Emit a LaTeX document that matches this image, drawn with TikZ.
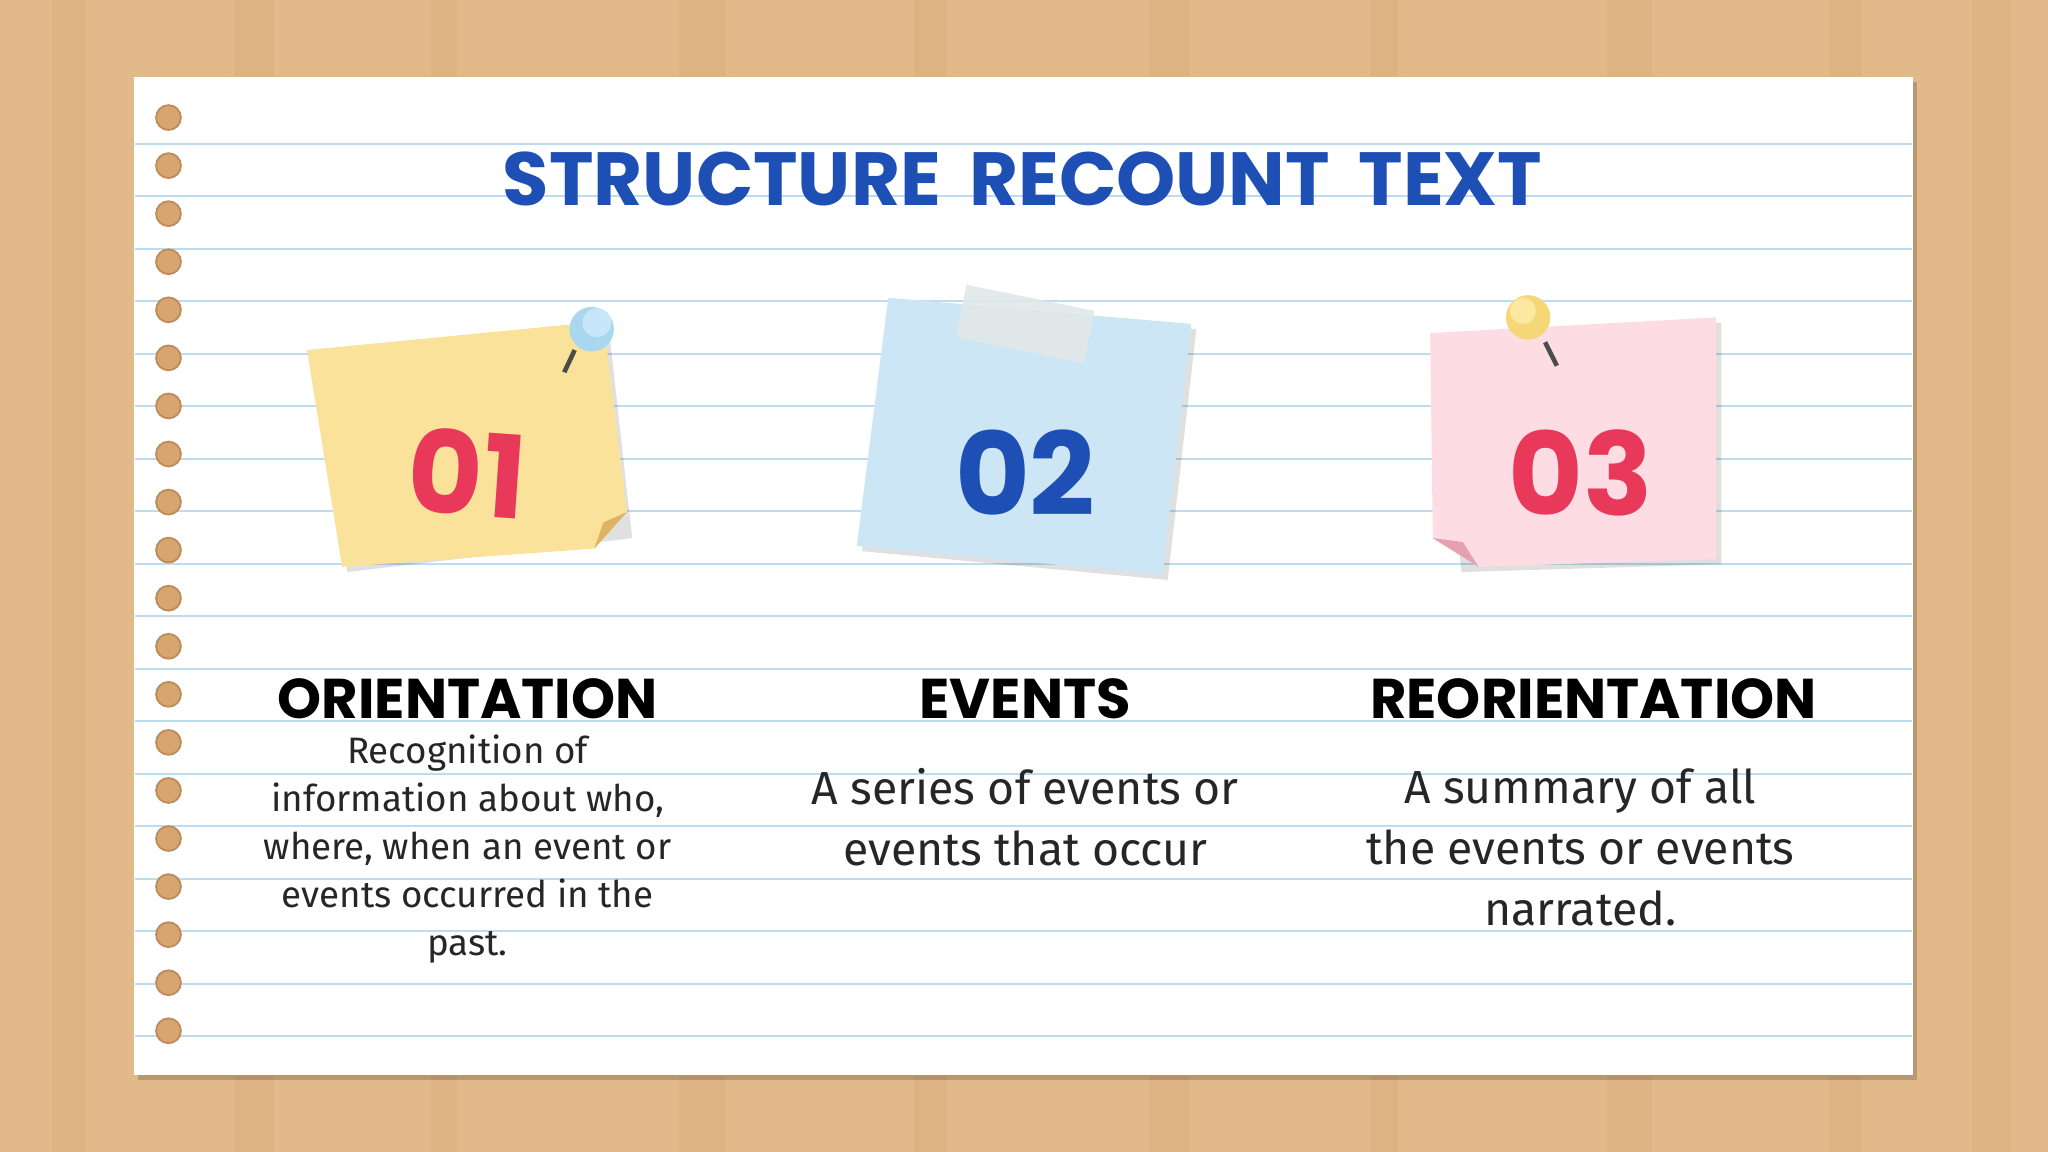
\documentclass[tikz,border=0pt]{standalone}
\usepackage{fontspec}
\setmainfont{Fira Sans}
\newfontfamily\headf{Poppins}
\begin{document}
\begin{tikzpicture}[x=0.01cm,y=-0.01cm,
  body/.style={align=center,text=black!85,font=\fontsize{8.0}{10.45}\selectfont},
  bodyb/.style={align=center,text=black!85,font=\fontsize{10.1}{13.3}\selectfont},
  head/.style={font=\headf\bfseries\fontsize{12.2}{14}\selectfont},
  num/.style={font=\headf\bfseries\fontsize{25}{25}\selectfont}]
\useasboundingbox (0,0) rectangle (1568,882);
\fill[color={rgb,255:red,226;green,185;blue,138}] (0,0) rectangle (1568,882);
\foreach \x/\w in {40/25,180/30,330/20,520/35,700/25,880/30,1050/20,1230/35,1400/25,1510/30}
  \fill[color={rgb,255:red,214;green,170;blue,122},opacity=0.35] (\x,0) rectangle (\x+\w,882);
% paper
\fill[black,opacity=0.18] (106,63) rectangle (1468,827);
\node[draw=none,fill=white,minimum width=13.61cm,minimum height=7.64cm,inner sep=0] (paper) at (783.5,441) {};
\foreach \i in {0,...,17}
  \draw[color={rgb,255:red,190;green,220;blue,240},line width=0.5pt] (103,110+40.2*\i) -- (1464,110+40.2*\i);
\foreach \i in {0,...,19}
  \fill[color={rgb,255:red,215;green,165;blue,112},draw={rgb,255:red,190;green,140;blue,90},line width=0.4pt] (129,90+36.8*\i) circle (9.5);
% title
\node[font=\headf\bfseries\fontsize{16.4}{20}\selectfont,text={rgb,255:red,30;green,79;blue,181}] (title) at (783,137) {STRUCTURE\, RECOUNT\, TEXT};
% note 1
\fill[black,opacity=0.12] (239,272)--(466,250)--(484,412)--(266,438)--cycle;
\fill[color={rgb,255:red,251;green,226;blue,154}] (235,268)--(462,246)--(480,392)--(455,420)--(262,434)--cycle;
\fill[color={rgb,255:red,220;green,180;blue,100}] (480,392)--(455,420)--(462,400)--cycle;
\draw[black!70,line width=1pt] (440,268)--(432,285);
\fill[color={rgb,255:red,170;green,215;blue,240}] (453,252) circle (17);
\fill[color={rgb,255:red,200;green,230;blue,250}] (457,247) circle (11);
\node[num,text={rgb,255:red,232;green,57;blue,90},rotate=-4] (n1) at (358,362) {01};
% note 2
\fill[black,opacity=0.12] (684,232)--(916,252)--(894,444)--(660,422)--cycle;
\fill[color={rgb,255:red,205;green,230;blue,245}] (680,228)--(912,248)--(890,440)--(656,418)--cycle;
\fill[color={rgb,255:red,225;green,232;blue,232},opacity=0.9] (740,218)--(838,238)--(830,278)--(732,258)--cycle;
\node[num,text={rgb,255:red,30;green,79;blue,181}] (n2) at (785,362) {02};
% note 3
\fill[black,opacity=0.12] (1099,259)--(1318,247)--(1318,432)--(1119,438)--cycle;
\fill[color={rgb,255:red,253;green,221;blue,227}] (1095,255)--(1314,243)--(1314,428)--(1132,434)--(1097,412)--cycle;
\fill[color={rgb,255:red,230;green,160;blue,175}] (1097,412)--(1132,434)--(1120,415)--cycle;
\draw[black!70,line width=1pt] (1183,262)--(1192,280);
\fill[color={rgb,255:red,245;green,215;blue,120}] (1170,243) circle (17);
\fill[color={rgb,255:red,252;green,232;blue,160}] (1166,238) circle (10);
\node[num,text={rgb,255:red,232;green,57;blue,90}] (n3) at (1210,362) {03};
% headings
\node[head] (h1) at (358,535) {ORIENTATION};
\node[head] (h2) at (785,535) {EVENTS};
\node[head] (h3) at (1220,535) {REORIENTATION};
% bodies
\node[body,anchor=north] (b1) at (358,550) {Recognition of\\information about who,\\where, when an event or\\events occurred in the\\past.};
\node[bodyb,anchor=north] (b2) at (785,576) {A series of events or\\events that occur};
\node[bodyb,anchor=north] (b3) at (1210,576) {A summary of all\\the events or events\\narrated.};
\end{tikzpicture}
\end{document}
